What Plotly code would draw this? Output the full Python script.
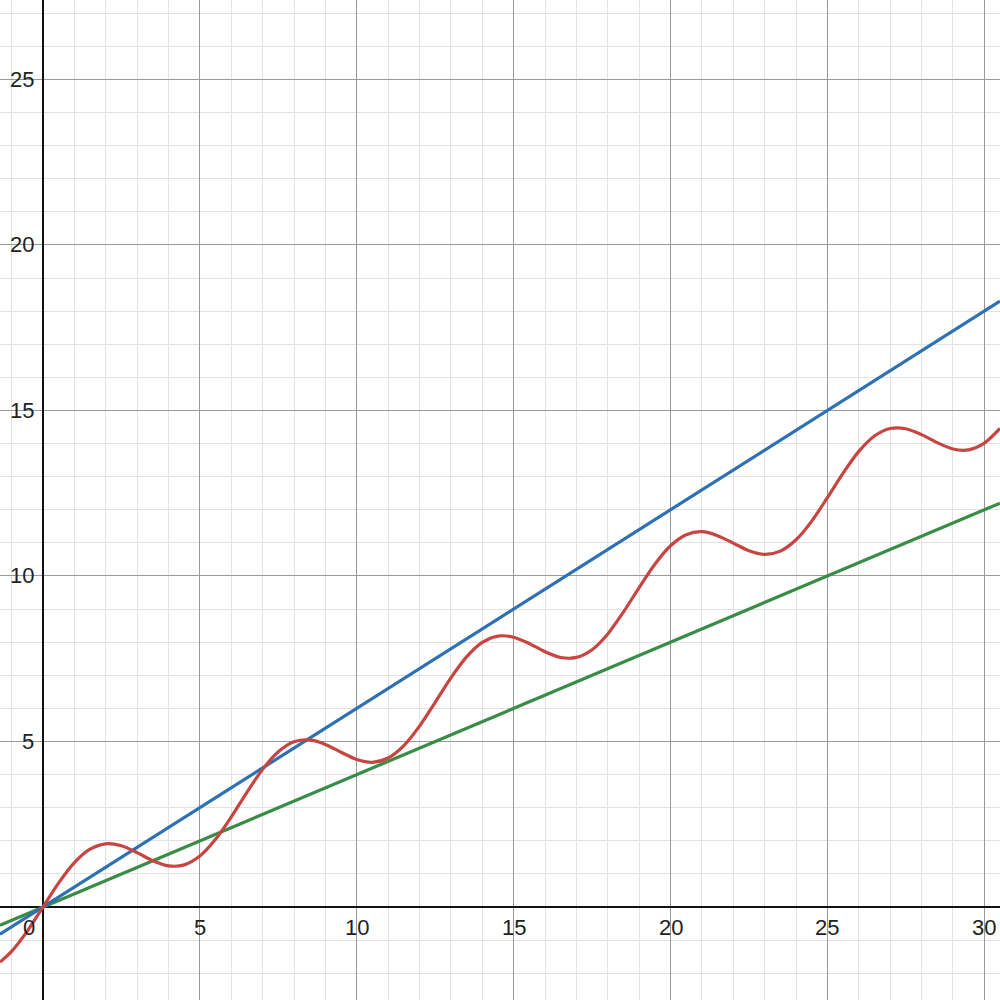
import plotly.graph_objects as go

red_x = [-1.37, -1, -0.5, 0, 0.5, 1, 1.5, 2, 2.5, 3, 3.5, 4, 4.5, 5, 5.5, 6, 6.5, 7, 7.5, 8,
         8.5, 9, 9.5, 10, 10.5, 11, 11.5, 12, 12.5, 13, 13.5, 14, 14.5, 15, 15.5, 16, 16.5,
         17, 17.5, 18, 18.5, 19, 19.5, 20, 20.5, 21, 21.5, 22, 22.5, 23, 23.5, 24, 24.5, 25,
         25.5, 26, 26.5, 27, 27.5, 28, 28.5, 29, 29.5, 30, 30.5]
red_y = [-1.665, -1.341, -0.729, 0, 0.729, 1.341, 1.747, 1.909, 1.848, 1.641, 1.399, 1.243,
         1.272, 1.541, 2.044, 2.721, 3.465, 4.157, 4.688, 4.989, 5.048, 4.912, 4.675, 4.456,
         4.370, 4.500, 4.875, 5.463, 6.184, 6.920, 7.554, 7.991, 8.185, 8.150, 7.957, 7.712,
         7.538, 7.539, 7.772, 8.249, 8.912, 9.650, 10.354, 10.913, 11.248, 11.337, 11.218,
         10.991, 10.763, 10.654, 10.751, 11.094, 11.658, 12.368, 13.108, 13.763, 14.229,
         14.456, 14.449, 14.271, 14.028, 13.836, 13.810, 14.012, 14.457]

# Blue and green straight lines (endpoints)
blue_x = [-1.37, 30.5]
blue_y = [-0.82, 18.3]
green_x = [-1.37, 30.5]
green_y = [-0.55, 12.2]

x_ticks = [5, 10, 15, 20, 25, 30]
y_ticks = [5, 10, 15, 20, 25]

FONT = dict(family="Liberation Sans, Arial", size=22, color="#222")

fig = go.Figure()
fig.add_trace(go.Scatter(x=green_x, y=green_y, mode="lines",
                         line=dict(color="#388c46", width=3.2)))
fig.add_trace(go.Scatter(x=blue_x, y=blue_y, mode="lines",
                         line=dict(color="#2d70b3", width=3.2)))
fig.add_trace(go.Scatter(x=red_x, y=red_y, mode="lines",
                         line=dict(color="#c74440", width=3.2, shape="spline", smoothing=0.8)))

ann = []
for t in x_ticks:
    ann.append(dict(x=t, y=0, xref="x", yref="y", text=str(t), showarrow=False,
                    xanchor="center", yanchor="top", yshift=-6, font=FONT))
for t in y_ticks:
    ann.append(dict(x=0, y=t, xref="x", yref="y", text=str(t), showarrow=False,
                    xanchor="right", yanchor="middle", xshift=-7, font=FONT))
ann.append(dict(x=0, y=0, xref="x", yref="y", text="0", showarrow=False,
                xanchor="right", yanchor="top", xshift=-6, yshift=-6, font=FONT))

fig.update_layout(
    width=1000, height=1000,
    margin=dict(l=0, r=0, t=0, b=0),
    paper_bgcolor="white", plot_bgcolor="white",
    showlegend=False,
    annotations=ann,
    xaxis=dict(range=[-1.37, 30.5], dtick=5, tick0=0, showgrid=True, gridcolor="#999999",
               gridwidth=1.2, zeroline=True, zerolinecolor="#111", zerolinewidth=2,
               showticklabels=False, ticks="",
               minor=dict(dtick=1, tick0=0, showgrid=True, gridcolor="#e2e2e2", gridwidth=1.2)),
    yaxis=dict(range=[-2.81, 27.4], dtick=5, tick0=0, showgrid=True, gridcolor="#999999",
               gridwidth=1.2, zeroline=True, zerolinecolor="#111", zerolinewidth=2,
               showticklabels=False, ticks="",
               minor=dict(dtick=1, tick0=0, showgrid=True, gridcolor="#e2e2e2", gridwidth=1.2)),
)

fig.write_html("out.html", config={"displayModeBar": False})

# remove the default page margin so the figure fills the window exactly
with open("out.html", "r", encoding="utf-8") as f:
    html = f.read()
html = html.replace("<head>", "<head><style>html,body{margin:0;padding:0;overflow:hidden;}</style>", 1)
with open("out.html", "w", encoding="utf-8") as f:
    f.write(html)
